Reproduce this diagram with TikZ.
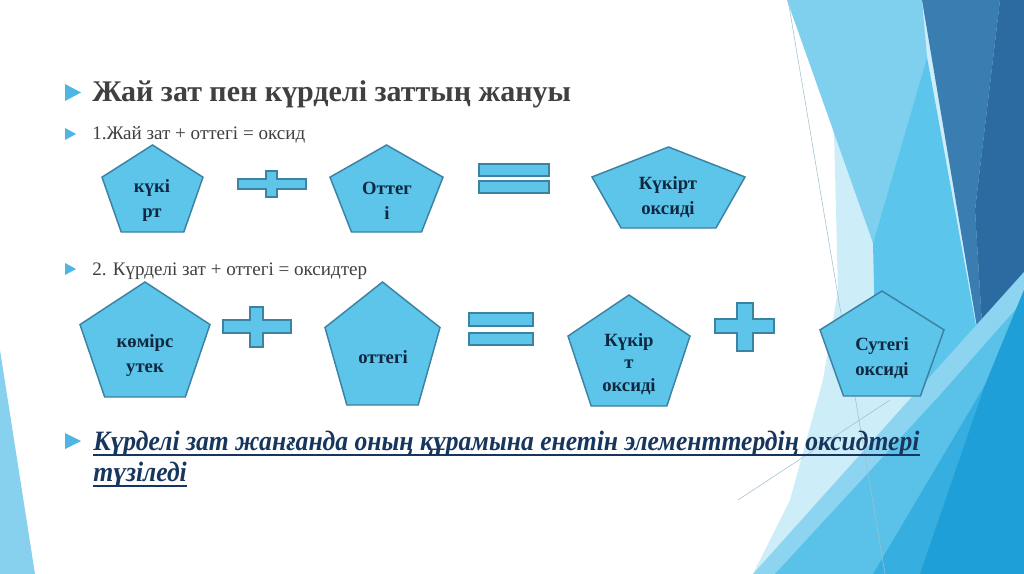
\documentclass[tikz,border=0pt]{standalone}
\usepackage{fontspec}
\setmainfont{Liberation Serif}
\newfontfamily\condfont[FakeStretch=0.915]{Liberation Serif}
\definecolor{bgpale}{HTML}{CDEDF9}
\definecolor{bgA}{HTML}{7FCFEF}
\definecolor{bgM}{HTML}{5CC5EC}
\definecolor{bgS}{HTML}{3A7DB0}
\definecolor{bgD}{HTML}{2C6BA1}
\definecolor{bgC}{HTML}{5AC1E9}
\definecolor{bgCL}{HTML}{8DD4F0}
\definecolor{bgCC}{HTML}{36AEE0}
\definecolor{bgB}{HTML}{1F9FD7}
\definecolor{bgL}{HTML}{87D0EE}
\definecolor{thinl}{HTML}{9FBFCF}
\definecolor{shpfill}{HTML}{5DC4EA}
\definecolor{shpline}{HTML}{3C82A2}
\definecolor{ptext}{HTML}{0F2841}
\definecolor{bulc}{HTML}{4DB6E2}
\definecolor{grtext}{HTML}{404040}
\definecolor{navy}{HTML}{17365D}
\tikzset{
  shp/.style={fill=shpfill, draw=shpline, line width=1.1pt, line join=miter},
  ptxt/.style={font=\bfseries\fontsize{14}{18.75}\selectfont, text=ptext, align=center, inner sep=0pt},
  bul/.style={fill=bulc},
  body/.style={font=\fontsize{14.3}{17}\selectfont, text=grtext, inner sep=0pt, anchor=base west},
  ttl/.style={font=\bfseries\fontsize{22.5}{26}\selectfont, text=grtext, inner sep=0pt, anchor=base west},
  concl/.style={font=\condfont\bfseries\itshape\fontsize{21}{24}\selectfont, text=navy, inner sep=0pt, anchor=base west},
  thin/.style={draw=thinl, line width=0.4pt}
}
\newcommand\pentshape[4]{%
  \draw[shp] ({#1+0.5*#3},#2) -- ({#1+#3},{#2+0.37*#4}) -- ({#1+0.81*#3},{#2+#4})
    -- ({#1+0.19*#3},{#2+#4}) -- (#1,{#2+0.37*#4}) -- cycle;}
% horizontal bar x1,y1,x2,y2 ; vertical bar vx1,vy1,vx2,vy2
\newcommand\crossshape[8]{%
  \draw[shp] (#1,#2) -- (#5,#2) -- (#5,#6) -- (#7,#6) -- (#7,#2) -- (#3,#2) -- (#3,#4)
    -- (#7,#4) -- (#7,#8) -- (#5,#8) -- (#5,#4) -- (#1,#4) -- cycle;}
\begin{document}
\begin{tikzpicture}[x=0.75pt,y=-0.75pt]
\useasboundingbox (0,0) rectangle (1024,574);
\fill[white] (0,0) rectangle (1024,574);
% left decoration
\fill[bgL] (0,350) -- (35,574) -- (0,574) -- cycle;
% right decoration
\fill[bgpale] (808,0) -- (1024,0) -- (1024,574) -- (753,574) -- (790,500) -- (823,380) -- (838,290) -- (834,133) -- cycle;
\fill[bgA] (787,0) -- (922,0) -- (927,57) -- (873,243) -- cycle;
\fill[bgM] (927,57) -- (985,375) -- (950,440) -- (875,330) -- (873,243) -- cycle;
\fill[bgS] (922,0) -- (1000,0) -- (975,210) -- (985,375) -- cycle;
\fill[bgD] (1000,0) -- (1024,0) -- (1024,290) -- (985,375) -- (975,210) -- cycle;
\fill[bgCL] (753,574) -- (927,380) -- (1024,272) -- (1024,574) -- cycle;
\fill[bgC] (775,574) -- (940,395) -- (1024,300) -- (1024,574) -- cycle;
\fill[bgCC] (873,574) -- (985,385) -- (1024,290) -- (1024,574) -- cycle;
\fill[bgB] (920,574) -- (985,385) -- (1024,290) -- (1024,574) -- cycle;
\coordinate (la1) at (788,0); \coordinate (la2) at (885,574);
\coordinate (lb1) at (738,500); \coordinate (lb2) at (890,400);
\draw[thin] (la1) -- (la2);
\draw[thin] (lb1) -- (lb2);
% bullets
\fill[bul] (65,84) -- (81,92.5) -- (65,101) -- cycle;
\fill[bul] (65,128) -- (76,134) -- (65,140) -- cycle;
\fill[bul] (65,263) -- (76,269) -- (65,275) -- cycle;
\fill[bul] (65,433) -- (81,441) -- (65,449) -- cycle;
% texts
\node[ttl] (title) at (92,102) {Жай зат пен күрделі заттың жануы};
\node[body] (l1) at (92,140) {1.Жай зат + оттегі = оксид};
\node[body] (l2) at (92,275) {2. Күрделі зат + оттегі = оксидтер};
\node[concl] (c1) at (93,450) {Күрделі зат жанғанда оның құрамына енетін элементтердің оксидтері};
\node[concl] (c2) at (93,481) {түзіледі};
\draw[navy, line width=1.3pt] ([yshift=-3.5pt]c1.base west) -- ([yshift=-3.5pt]c1.base east);
\draw[navy, line width=1.3pt] ([yshift=-3.5pt]c2.base west) -- ([yshift=-3.5pt]c2.base east);
% row 1
\pentshape{102}{145}{101}{87}
\node[ptxt] (p1) at (152,201) {күкі\\рт};
\crossshape{238}{179}{306}{189}{266}{171}{277}{197}
\pentshape{330}{145}{113}{87}
\node[ptxt] (p2) at (387,201) {Оттег\\і};
\draw[shp] (479,164) rectangle (549,176);
\draw[shp] (479,181) rectangle (549,193);
\pentshape{592}{147}{153}{81}
\node[ptxt] (p3) at (668,197) {Күкірт\\оксиді};
% row 2
\pentshape{80}{282}{130}{115}
\node[ptxt] (p4) at (145,356) {көмірс\\утек};
\crossshape{223}{320}{291}{333}{250}{307}{263}{347}
\pentshape{325}{282}{115}{123}
\node[ptxt] (p5) at (383,357) {оттегі};
\draw[shp] (469,313) rectangle (533,326);
\draw[shp] (469,333) rectangle (533,345);
\pentshape{568}{295}{122}{111}
\node[ptxt, font=\bfseries\fontsize{14}{17}\selectfont] (p6) at (629,364) {Күкір\\т\\оксиді};
\crossshape{715}{319}{774}{333}{737}{303}{753}{351}
\pentshape{820}{291}{124}{105}
\node[ptxt] (p7) at (882,358) {Сутегі\\оксиді};
\end{tikzpicture}
\end{document}
